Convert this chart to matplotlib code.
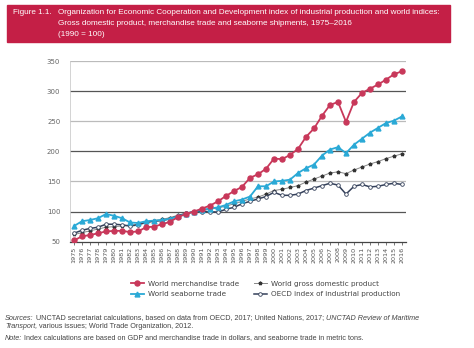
import numpy as np
import matplotlib.pyplot as plt
from matplotlib.patches import Rectangle

years = list(range(1975, 2017))

merch = [52, 59, 61, 64, 67, 68, 68, 66, 67, 74, 75, 79, 83, 91, 96, 100,
         105, 110, 117, 126, 134, 141, 156, 162, 171, 188, 187, 194, 204, 224,
         238, 259, 277, 282, 249, 282, 297, 304, 311, 319, 328, 333]
seaborne = [76, 84, 86, 89, 96, 93, 89, 82, 81, 84, 85, 86, 88, 92, 96, 100,
            103, 105, 107, 111, 117, 120, 125, 142, 142, 150, 151, 153, 164, 172,
            178, 193, 203, 207, 197, 211, 221, 231, 239, 247, 251, 258]
gdp = [62, 65, 68, 71, 74, 75, 76, 77, 79, 82, 85, 87, 90, 94, 97, 100,
       102, 104, 106, 109, 113, 117, 121, 124, 129, 135, 137, 140, 143, 149,
       154, 159, 164, 166, 163, 169, 174, 179, 183, 188, 192, 196]
oecd = [64, 69, 72, 74, 79, 79, 78, 76, 78, 82, 84, 85, 88, 93, 97, 100,
        100, 100, 99, 104, 107, 113, 117, 121, 125, 132, 127, 127, 129, 135,
        139, 143, 147, 144, 129, 142, 145, 141, 142, 145, 147, 145]

title_lines = ["Organization for Economic Cooperation and Development index of industrial production and world indices:",
               "Gross domestic product, merchandise trade and seaborne shipments, 1975\u20132016",
               "(1990 = 100)"]

red = '#c8385a'
cyan = '#2aa9d6'
navy = '#34405a'
txtgrey = '#555555'

W, H = 474, 348
fig = plt.figure(figsize=(4.74, 3.48), dpi=100)

# title box
fig.patches.append(Rectangle((7 / W, 1 - 42 / H), 443 / W, 37 / H,
                             transform=fig.transFigure, color='#c41f46', zorder=0))
sans = ['Liberation Sans', 'DejaVu Sans']
fig.text(13 / W, 1 - 12 / H, 'Figure 1.1.', color='white', fontsize=5.9,
         family=sans, va='center')
for i, line in enumerate(title_lines):
    fig.text(58 / W, 1 - (12 + 11.5 * i) / H, line, color='white', fontsize=5.9,
             family=sans, va='center')

ax = fig.add_axes([70 / W, 1 - 241.7 / H, 336 / W, 180.7 / H])
ax.set_xlim(1974.5, 2016.5)
ax.set_ylim(50, 350)
for v in [100, 150, 200, 250, 300, 350]:
    ax.axhline(v, color='#555555' if v % 100 == 0 else '#bbbbbb', lw=0.9, zorder=0)
for s in ['top', 'right']:
    ax.spines[s].set_visible(False)
ax.spines['left'].set_color('#cccccc')
ax.spines['left'].set_linewidth(0.6)
ax.spines['bottom'].set_color('#444444')
ax.spines['bottom'].set_linewidth(0.9)

ax.plot(years, gdp, color='#888888', lw=0.7, marker='*', ms=2.6,
        mfc='#333333', mec='#333333', label='World gross domestic product', zorder=2)
ax.plot(years, oecd, color=navy, lw=1.1, marker='o', ms=2.6,
        mfc='white', mec=navy, mew=0.6, label='OECD index of industrial production', zorder=3)
ax.plot(years, seaborne, color=cyan, lw=1.3, marker='^', ms=3.5,
        mfc=cyan, mec=cyan, label='World seaborne trade', zorder=4)
ax.plot(years, merch, color=red, lw=1.3, marker='o', ms=3.6,
        mfc=red, mec=red, label='World merchandise trade', zorder=5)

ax.set_xticks(years)
ax.set_xticklabels([str(y) for y in years], rotation=90, fontsize=4.6, color=txtgrey)
ax.set_yticks([50, 100, 150, 200, 250, 300, 350])
ax.tick_params(axis='y', length=0, labelsize=5, labelcolor='#666666', pad=7)
ax.tick_params(axis='x', length=2, width=0.5, color='#444444', pad=1.5)

h, l = ax.get_legend_handles_labels()
order = [3, 2, 0, 1]
fig.legend([h[i] for i in order], [l[i] for i in order], ncol=2,
           loc='center left', bbox_to_anchor=(124 / W, 1 - 289 / H), frameon=False,
           fontsize=5.2, handlelength=1.8, columnspacing=2.0, labelspacing=0.6,
           handletextpad=0.6, labelcolor='#444444')

# source notes with italic pieces
fig.canvas.draw()
renderer = fig.canvas.get_renderer()
def put(pieces, x, y):
    for txt, style in pieces:
        t = fig.text(x, y, txt, fontsize=5.2, style=style, color='#444444',
                     family=sans, va='center')
        bb = t.get_window_extent(renderer)
        x += bb.width / W

put([('Sources:', 'italic'),
     (' UNCTAD secretariat calculations, based on data from OECD, 2017; United Nations, 2017; ', 'normal'),
     ('UNCTAD Review of Maritime', 'italic')], 5 / W, 1 - 318 / H)
put([('Transport,', 'italic'), (' various issues; World Trade Organization, 2012.', 'normal')],
    5 / W, 1 - 327 / H)
put([('Note:', 'italic'),
     (' Index calculations are based on GDP and merchandise trade in dollars, and seaborne trade in metric tons.', 'normal')],
    5 / W, 1 - 338 / H)

fig.savefig('out.png', dpi=100)
